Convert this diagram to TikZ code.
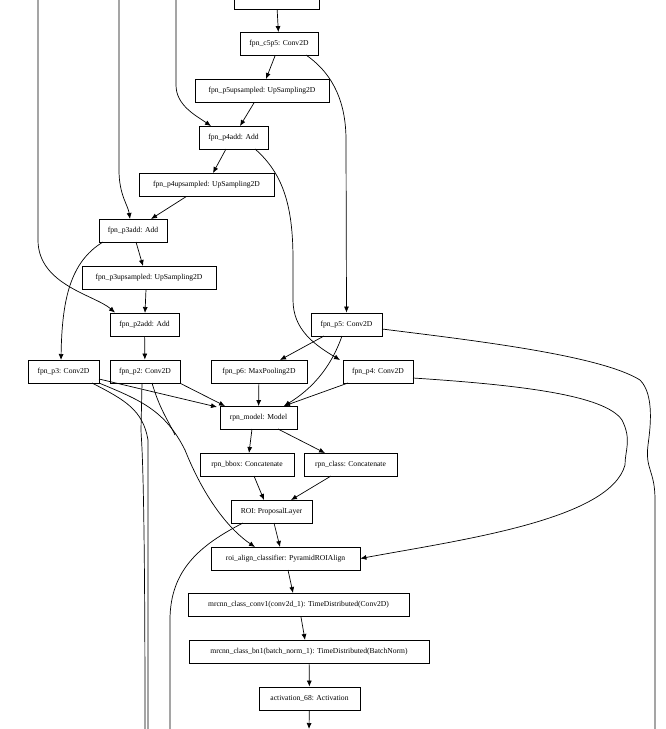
\documentclass[tikz,border=0pt]{standalone}
\usepackage{fontspec}
\setmainfont{Liberation Serif}
\usetikzlibrary{arrows.meta}
\begin{document}
\begin{tikzpicture}[x=1pt,y=-1pt,
  box/.style={draw,line width=0.8pt,minimum height=23pt,inner sep=0pt,font=\fontsize{7.6}{8}\selectfont},
  e/.style={-{Latex[length=6pt,width=5pt]},line width=0.7pt},
  l/.style={line width=0.7pt}]
\useasboundingbox (0,0) rectangle (665,729);
\node[box,minimum width=85pt] (top) at (276.5,-2.5) {};
\node[box,minimum width=78pt] (c5p5) at (279,44) {fpn\_c5p5: Conv2D};
\node[box,minimum width=134pt] (p5up) at (262,91) {fpn\_p5upsampled: UpSampling2D};
\node[box,minimum width=69pt] (p4add) at (233.5,137.5) {fpn\_p4add: Add};
\node[box,minimum width=135pt] (p4up) at (206.5,184.5) {fpn\_p4upsampled: UpSampling2D};
\node[box,minimum width=68pt] (p3add) at (133,231) {fpn\_p3add: Add};
\node[box,minimum width=134pt] (p3up) at (149,277.5) {fpn\_p3upsampled: UpSampling2D};
\node[box,minimum width=69pt] (p2add) at (144.5,324.5) {fpn\_p2add: Add};
\node[box,minimum width=71pt] (p5) at (346.5,324.5) {fpn\_p5: Conv2D};
\node[box,minimum width=71pt] (p3) at (63.5,371.5) {fpn\_p3: Conv2D};
\node[box,minimum width=70pt] (p2) at (145,371.5) {fpn\_p2: Conv2D};
\node[box,minimum width=96pt] (p6) at (259,371.5) {fpn\_p6: MaxPooling2D};
\node[box,minimum width=70pt] (p4) at (378,371.5) {fpn\_p4: Conv2D};
\node[box,minimum width=77pt] (rpn) at (258.5,418) {rpn\_model: Model};
\node[box,minimum width=94pt] (bbox) at (247,465) {rpn\_bbox: Concatenate};
\node[box,minimum width=93pt] (cls) at (350.5,465) {rpn\_class: Concatenate};
\node[box,minimum width=81pt] (roi) at (271.5,511.5) {ROI: ProposalLayer};
\node[box,minimum width=149pt] (align) at (285.5,558.5) {roi\_align\_classifier: PyramidROIAlign};
\node[box,minimum width=221pt] (conv1) at (298.5,605) {mrcnn\_class\_conv1(conv2d\_1): TimeDistributed(Conv2D)};
\node[box,minimum width=240pt] (bn1) at (309,651.5) {mrcnn\_class\_bn1(batch\_norm\_1): TimeDistributed(BatchNorm)};
\node[box,minimum width=101pt] (act) at (309.5,698.5) {activation\_68: Activation};
\coordinate (t1) at (38,0); \coordinate (t2) at (119,0); \coordinate (t3) at (176,0);
\coordinate (b1) at (148,729); \coordinate (b2) at (145,729); \coordinate (b3) at (170,729);
\coordinate (b4) at (655,729); \coordinate (b5) at (309,729);
% edges
\draw[e] (t1) -- (38,240) .. controls (38,285) and (95,295) .. (p2add.north west -| 115,313);
\draw[e] (t2) -- (119,170) .. controls (119,195) and (128,205) .. (130,219);
\draw[e] (t3) -- (176,85) .. controls (176,105) and (195,115) .. (211,126);
\draw[e] (top) -- (c5p5);
\draw[e] (c5p5.south)++(-4,0) -- (266,79);
\draw[e] (306,55) .. controls (335,75) and (346,105) .. (346,140) -- (p5.north);
\draw[e] (p5up.south)++(-8,0) -- (240,126);
\draw[e] (226,149) -- (213,173);
\draw[e] (255,149) .. controls (285,175) and (293,210) .. (293,260) -- (293,300) .. controls (293,330) and (315,345) .. (340,360);
\draw[e] (p4up.south)++(-20,0) -- (151,219);
\draw[e] (136,242) -- (143,266);
\draw[e] (103,242) .. controls (70,262) and (62,300) .. (61,360);
\draw[e] (p3up.south)++(-3,0) -- (145,313);
\draw[e] (p2add) -- (p2);
\draw[e] (324,336) -- (280,360);
\draw[e] (342,336) .. controls (330,370) and (310,390) .. (284,406);
\draw[l] (382,329) .. controls (470,340) and (600,355) .. (640,380) .. controls (655,395) and (650,430) .. (648,445)
  .. controls (645,470) and (655,470) .. (655,500) -- (b4);
\draw[e] (413,378) .. controls (520,385) and (605,395) .. (622,420) .. controls (632,440) and (625,450) .. (625,465)
  .. controls (610,520) and (460,540) .. (align.east);
\draw[e] (p2.south east) -- (225,406);
\draw[e] (99,379) -- (217,407);
\draw[e] (p6) -- (rpn);
\draw[e] (348,383) -- (284,406);
\draw[l] (92,383) .. controls (125,400) and (143,410) .. (148,440) -- (b1);
\draw[l] (142,383) -- (141,430) .. controls (141,440) and (145,450) .. (b2);
\draw[e] (99,383) .. controls (140,400) and (165,410) .. (185,450) .. controls (205,500) and (230,530) .. (255,547);
\draw[l] (152,383) .. controls (160,410) and (168,420) .. (175,435);
\draw[e] (252,429) -- (249,453);
\draw[e] (278,429) -- (325,453);
\draw[e] (254,476) -- (264,500);
\draw[e] (331,476) -- (291,500);
\draw[e] (274,523) -- (280,547);
\draw[l] (243,523) .. controls (200,545) and (170,570) .. (170,620) -- (b3);
\draw[e] (288,570) -- (293,593);
\draw[e] (301,617) -- (305,640);
\draw[e] (bn1) -- (act);
\draw[e] (act) -- (b5);
\end{tikzpicture}
\end{document}
